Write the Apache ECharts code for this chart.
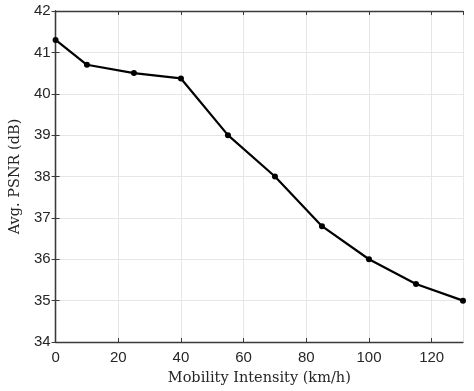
<!DOCTYPE html>
<html><head><meta charset="utf-8">
<script src="https://cdn.jsdelivr.net/npm/echarts@6/dist/echarts.min.js"></script>
<style>html,body{margin:0;padding:0;background:#fff}#c{width:474px;height:391px}</style>
</head><body><div id="c"></div>
<script>
const speeds = [0, 10, 25, 40, 55, 70, 85, 100, 115, 130];
const psnr = [41.3, 40.7, 40.5, 40.37, 39.0, 38.0, 36.8, 36.0, 35.4, 35.0];
const xTitle = 'Mobility Intensity (km/h)';
const yTitle = 'Avg. PSNR (dB)';
const axisCol = '#3a3a3a';
const tickFont = {fontFamily: 'Liberation Sans, Arial, sans-serif', fontSize: 15, color: '#262626'};
const titleFont = {fontFamily: 'DejaVu Serif, Liberation Serif, serif', fontSize: 14.5, color: '#262626'};
const chart = echarts.init(document.getElementById('c'), null, {renderer: 'canvas'});
const data = speeds.map((s, i) => [s, psnr[i]]);
const frameAxis = {
  axisLine: {show: true, lineStyle: {color: axisCol, width: 1.3}},
  axisTick: {inside: true, length: 4, lineStyle: {color: axisCol}},
  axisLabel: {show: false}, splitLine: {show: false}
};
chart.setOption({
  animation: false,
  grid: {left: 44, right: 11, top: 11, bottom: 48},
  xAxis: [{
    type: 'value', min: 0, max: 130, interval: 20,
    name: xTitle, nameLocation: 'middle', nameGap: 29, nameTextStyle: titleFont,
    axisLine: {show: true, lineStyle: {color: axisCol, width: 1.3}},
    axisTick: {inside: true, length: 4, lineStyle: {color: axisCol}},
    axisLabel: Object.assign({margin: 8, showMaxLabel: false}, tickFont),
    splitLine: {show: true, lineStyle: {color: '#e6e6e6', width: 1}}
  }, Object.assign({type: 'value', min: 0, max: 130, interval: 20, position: 'top'}, frameAxis)],
  yAxis: [{
    type: 'value', min: 34, max: 42, interval: 1,
    name: yTitle, nameLocation: 'middle', nameGap: 32, nameTextStyle: titleFont,
    axisLine: {show: true, lineStyle: {color: axisCol, width: 1.3}},
    axisTick: {inside: true, length: 4, lineStyle: {color: axisCol}},
    axisLabel: Object.assign({margin: 5}, tickFont),
    splitLine: {show: true, lineStyle: {color: '#e6e6e6', width: 1}}
  }, Object.assign({type: 'value', min: 34, max: 42, interval: 1, position: 'right'}, frameAxis)],
  series: [{
    type: 'line', data: data, xAxisIndex: 0, yAxisIndex: 0,
    symbol: 'circle', symbolSize: 6,
    lineStyle: {color: '#000', width: 2.2},
    itemStyle: {color: '#000'}
  }]
});
</script></body></html>
